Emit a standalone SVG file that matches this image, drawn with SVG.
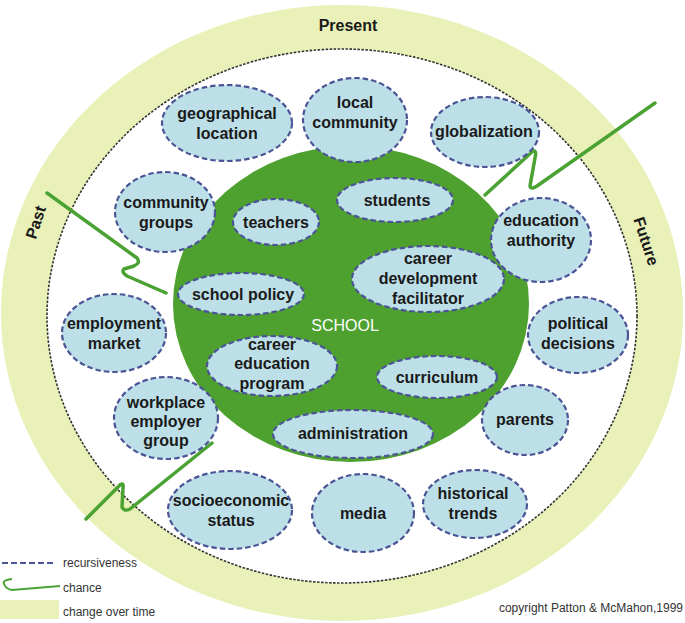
<svg xmlns="http://www.w3.org/2000/svg" width="685" height="623" viewBox="0 0 685 623">
<style>
.node ellipse{fill:#bde0e8;stroke:#4b5596;stroke-width:2.2;stroke-dasharray:5.5 3}
.node text{font-family:"Liberation Sans",Arial,sans-serif;font-weight:bold;font-size:16px;fill:#1a1a1a;text-anchor:middle}
.lbl{font-family:"Liberation Sans",Arial,sans-serif;font-weight:bold;font-size:16px;fill:#1a1a1a;text-anchor:middle}
.leg{font-family:"Liberation Sans",Arial,sans-serif;font-size:12px;fill:#333}
.chance{fill:none;stroke:#4aa233;stroke-width:3.5;stroke-linecap:round;stroke-linejoin:round}
</style>
<rect width="685" height="623" fill="#fff"/>
<!-- change over time ring -->
<ellipse cx="342" cy="313" rx="341" ry="308" fill="#e9f0b8"/>
<ellipse cx="342" cy="316" rx="295" ry="267" fill="#fff" stroke="#333" stroke-width="1.6" stroke-dasharray="2.5 1.5"/>
<text class="lbl" x="348" y="31">Present</text>
<text class="lbl" x="0" y="0" transform="translate(41,224) rotate(-72)">Past</text>
<text class="lbl" x="0" y="0" transform="translate(641,243) rotate(72)">Future</text>
<!-- school -->
<g id="school">
<ellipse cx="351" cy="304" rx="178" ry="158" fill="#4ea12f"/>
<text x="345" y="331" font-family="Liberation Sans,Arial,sans-serif" font-size="16" fill="#fff" text-anchor="middle">SCHOOL</text>
</g>
<!-- chance lines -->
<g id="connectors">
<path class="chance" d="M485,195 L533,151 Q537,150 535,158 L530,186 Q531,190 537,186 L655,103"/>
<path class="chance" d="M47,193 L137,258 Q141,263 134,266 L124,269 Q121,272 127,276 L166,293"/>
<path class="chance" d="M86,519 L120,485 Q124,482 123,488 L122,507 Q124,512 130,509 L212,443"/>
</g>
<!-- outer nodes -->
<g id="geographical" class="node"><ellipse cx="227" cy="123" rx="65" ry="38"/><text x="227" y="119">geographical</text><text x="227" y="139">location</text></g>
<g id="local" class="node"><ellipse cx="355" cy="120" rx="52" ry="42"/><text x="355" y="108">local</text><text x="355" y="128">community</text></g>
<g id="globalization" class="node"><ellipse cx="485" cy="132" rx="54" ry="35"/><text x="484" y="137">globalization</text></g>
<g id="community" class="node"><ellipse cx="165" cy="212" rx="50" ry="40"/><text x="166" y="208">community</text><text x="166" y="228">groups</text></g>
<g id="education" class="node"><ellipse cx="541" cy="240" rx="50" ry="42"/><text x="541" y="226">education</text><text x="541" y="246">authority</text></g>
<g id="employment" class="node"><ellipse cx="114" cy="333" rx="52" ry="39"/><text x="114" y="329">employment</text><text x="114" y="349">market</text></g>
<g id="political" class="node"><ellipse cx="578" cy="335" rx="50" ry="38"/><text x="578" y="329">political</text><text x="578" y="349">decisions</text></g>
<g id="workplace" class="node"><ellipse cx="166" cy="418" rx="52" ry="41"/><text x="166" y="408">workplace</text><text x="166" y="427">employer</text><text x="166" y="446">group</text></g>
<g id="parents" class="node"><ellipse cx="525" cy="420" rx="43" ry="35"/><text x="525" y="425">parents</text></g>
<g id="socioeconomic" class="node"><ellipse cx="230" cy="510" rx="62" ry="39"/><text x="231" y="506">socioeconomic</text><text x="231" y="526">status</text></g>
<g id="media" class="node"><ellipse cx="363" cy="513" rx="51" ry="39"/><text x="363" y="519">media</text></g>
<g id="historical" class="node"><ellipse cx="475" cy="504" rx="52" ry="34"/><text x="473" y="499">historical</text><text x="473" y="519">trends</text></g>
<!-- inner nodes -->
<g id="students" class="node"><ellipse cx="395" cy="200" rx="58" ry="22"/><text x="397" y="206">students</text></g>
<g id="teachers" class="node"><ellipse cx="276" cy="222" rx="43" ry="23"/><text x="276" y="228">teachers</text></g>
<g id="cdf" class="node"><ellipse cx="428" cy="279" rx="76" ry="33"/><text x="428" y="264">career</text><text x="428" y="284">development</text><text x="428" y="304">facilitator</text></g>
<g id="policy" class="node"><ellipse cx="241" cy="294" rx="63" ry="21"/><text x="243" y="300">school policy</text></g>
<g id="cep" class="node"><ellipse cx="272" cy="366" rx="65" ry="30"/><text x="272" y="350">career</text><text x="272" y="369">education</text><text x="272" y="389">program</text></g>
<g id="curriculum" class="node"><ellipse cx="437" cy="377" rx="60" ry="21"/><text x="437" y="383">curriculum</text></g>
<g id="administration" class="node"><ellipse cx="353" cy="434" rx="80" ry="24"/><text x="353" y="439">administration</text></g>
<!-- legend -->
<g id="legend">
<line x1="2" y1="563" x2="56" y2="563" stroke="#4b5596" stroke-width="2" stroke-dasharray="6 3"/>
<text class="leg" x="63" y="567">recursiveness</text>
<path d="M12,579 Q2,580 4,584 Q6,589 12,590 Q35,588 60,586" fill="none" stroke="#4aa233" stroke-width="2"/>
<text class="leg" x="63" y="592">chance</text>
<rect x="0" y="600" width="59" height="19" fill="#e9f0b8"/>
<text class="leg" x="63" y="616">change over time</text>
<text class="leg" x="683" y="612" text-anchor="end" font-size="12.6">copyright Patton &amp; McMahon,1999</text>
</g>
</svg>
